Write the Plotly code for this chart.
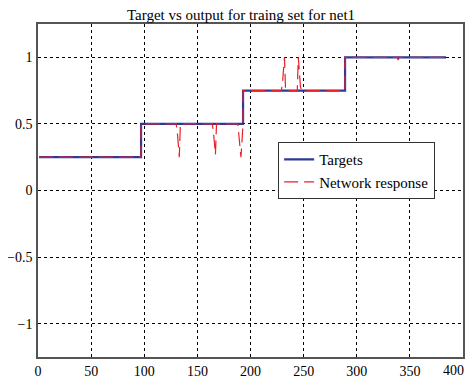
import plotly.graph_objects as go

# Targets (step levels)
target_x = [1, 97, 97, 193, 193, 289, 289, 384]
target_y = [0.25, 0.25, 0.5, 0.5, 0.75, 0.75, 1.0, 1.0]

# Network response (follows targets with a few spikes)
resp_x = [1, 97, 97, 130, 131, 132, 133, 134, 164, 165, 166, 167, 168,
          188, 189, 190, 191, 193, 193, 229, 230, 231, 232, 233,
          244, 245, 246, 247, 248, 289, 289, 338, 339, 340, 384]
resp_y = [0.25, 0.25, 0.5, 0.5, 0.45, 0.35, 0.25, 0.5, 0.5, 0.45, 0.32, 0.27, 0.5,
          0.5, 0.42, 0.3, 0.25, 0.5, 0.75, 0.75, 0.8, 0.9, 1.0, 0.75,
          0.75, 1.0, 0.85, 0.78, 0.75, 0.75, 1.0, 1.0, 0.98, 1.0, 1.0]

x_ticks = [0, 50, 100, 150, 200, 250, 300, 350, 400]
x_labels = ["0", "50", "100", "150", "200", "250", "300", "350", ""]
x_last_label = "400"
y_ticks = [-1, -0.5, 0, 0.5, 1]
y_labels = ["\u22121", "\u22120.5", "0", "0.5", "1"]

fig = go.Figure()
fig.add_trace(go.Scatter(x=target_x, y=target_y, mode="lines", name="Targets",
                         line=dict(color="#2b3a97", width=2.2)))
fig.add_trace(go.Scatter(x=resp_x, y=resp_y, mode="lines", name="Network response",
                         line=dict(color="#e8202a", width=1.2, dash="14px,6px")))

font = "Liberation Serif, Times New Roman, serif"
fig.update_layout(
    width=466, height=372,
    margin=dict(l=30, r=11, t=16, b=23),
    paper_bgcolor="white", plot_bgcolor="white",
    title=dict(text="Target vs output for traing set for net1", x=0.5, xanchor="center",
               y=0.997, yanchor="top", pad=dict(t=0),
               font=dict(family=font, size=15, color="black")),
    font=dict(family=font, size=15, color="black"),
    showlegend=True,
    legend=dict(x=0.565, y=0.645, xanchor="left", yanchor="top",
                bgcolor="white", bordercolor="#333333", borderwidth=1,
                font=dict(family=font, size=15), tracegroupgap=0),
    annotations=[dict(x=x_ticks[-1], y=0, xref="x", yref="paper", text=x_last_label,
                      showarrow=False, xanchor="right", yanchor="top", xshift=3, yshift=-4,
                      font=dict(family=font, size=14, color="black"))],
)
fig.update_xaxes(range=[0, 400], tickvals=x_ticks, ticktext=x_labels, showgrid=True,
                 gridcolor="black", griddash="3px,3px", gridwidth=1, showline=True,
                 linecolor="#555555", mirror=True, linewidth=1.5, zeroline=False,
                 ticks="", automargin=False, ticklabeloverflow="allow",
                 tickfont=dict(size=14))
fig.update_yaxes(range=[-1.25, 1.25], tickvals=y_ticks, ticktext=y_labels, showgrid=True,
                 gridcolor="black", griddash="3px,3px", gridwidth=1, showline=True,
                 linecolor="#555555", mirror=True, linewidth=1.5, zeroline=False,
                 ticks="", automargin=False, ticklabelstandoff=1,
                 ticklabeloverflow="allow", tickfont=dict(size=14))

fig.write_html("out.html")
